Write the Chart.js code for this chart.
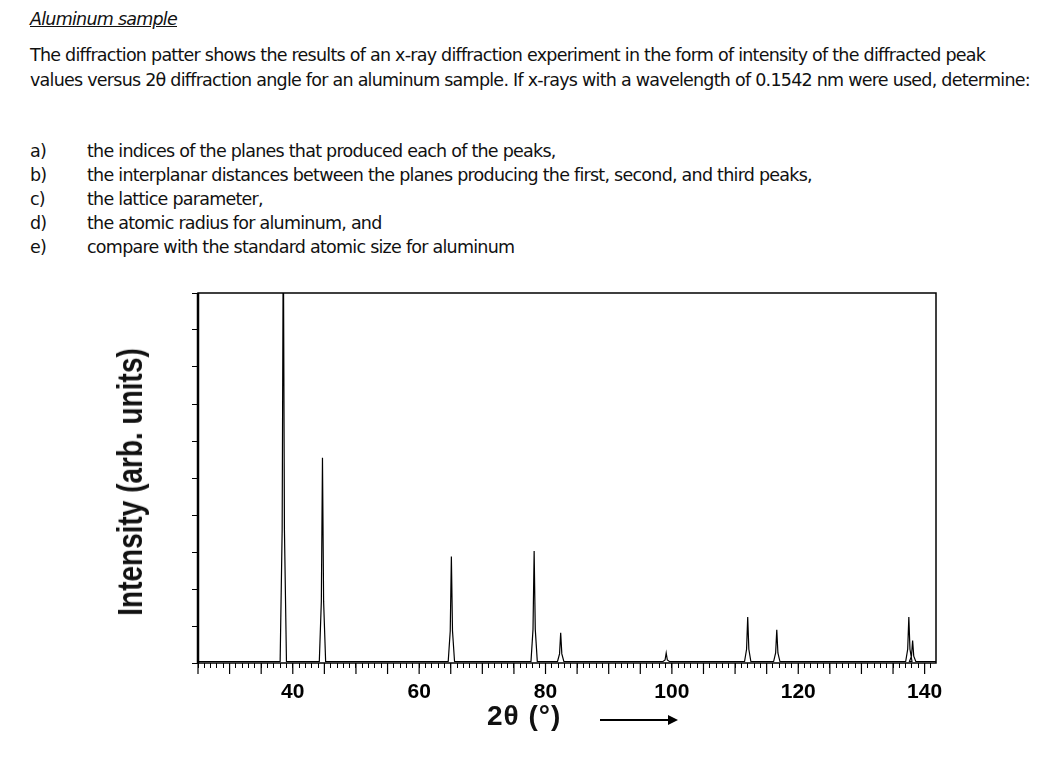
<!DOCTYPE html>
<html>
<head>
<meta charset="utf-8">
<script src="https://cdn.jsdelivr.net/npm/chart.js@4"></script>
<style>
  body { margin: 0; background: #fff; width: 1045px; height: 763px; position: relative; overflow: hidden;
         font-family: "DejaVu Sans", sans-serif; color: #111; }
  .txt { position: absolute; font-size: 17.5px; letter-spacing: -0.75px; }
  .head { left: 30px; top: 9px; font-style: italic; text-decoration: underline; }
  .para { left: 30px; top: 43px; width: 1010px; line-height: 24.5px; }
  .item { left: 30px; line-height: 24px; }
  .item span { position: absolute; left: 57px; white-space: nowrap; }
  #wrap { position: absolute; left: 0; top: 280px; width: 1045px; height: 470px; }
  .ytitle { position: absolute; left: 130px; top: 482px; transform: translate(-50%, -50%) rotate(-90deg) scaleX(0.8);
            font: bold 35px "Liberation Sans", Arial, sans-serif; white-space: nowrap; }
  .xtitle { position: absolute; left: 487px; top: 700px; font: bold 28px "Liberation Sans", Arial, sans-serif;
            letter-spacing: 1px; white-space: nowrap; }
  .arrow { position: absolute; left: 600px; top: 719px; width: 74px; height: 2px; background: #000; }
  .arrow:after { content: ""; position: absolute; right: -4px; top: -4px; border-left: 10px solid #000;
                 border-top: 5px solid transparent; border-bottom: 5px solid transparent; }
</style>
</head>
<body>
<div class="txt head">Aluminum sample</div>
<div class="txt para">The diffraction patter shows the results of an x-ray diffraction experiment in the form of intensity of the diffracted peak values versus 2θ diffraction angle for an aluminum sample. If x-rays with a wavelength of 0.1542 nm were used, determine:</div>
<div class="txt item" style="top:139px">a)<span>the indices of the planes that produced each of the peaks,</span></div>
<div class="txt item" style="top:163px">b)<span>the interplanar distances between the planes producing the first, second, and third peaks,</span></div>
<div class="txt item" style="top:187px">c)<span>the lattice parameter,</span></div>
<div class="txt item" style="top:211px">d)<span>the atomic radius for aluminum, and</span></div>
<div class="txt item" style="top:235px">e)<span>compare with the standard atomic size for aluminum</span></div>

<div id="wrap"><canvas id="xrd"></canvas></div>
<div class="ytitle">Intensity (arb. units)</div>
<div class="xtitle">2θ (°)</div>
<div class="arrow"></div>

<script>
// peak positions (2θ, degrees) and relative heights
const PEAK_POS = [38.5, 44.7, 65.1, 78.2, 82.4, 99.1, 112.0, 116.6, 137.5, 138.1];
const PEAK_HEIGHT = [1.2, 0.555, 0.288, 0.303, 0.082, 0.027, 0.124, 0.09, 0.124, 0.061];
const X_LABELS = [40, 60, 80, 100, 120, 140];
const X_MIN = 25;
const X_MAX = 141.8;

function buildTrace() {
  const pts = [{ x: X_MIN, y: 0.004 }];
  PEAK_POS.forEach((p, i) => {
    const h = PEAK_HEIGHT[i];
    pts.push({ x: p - 0.5, y: 0.004 }, { x: p - 0.18, y: h * 0.3 }, { x: p, y: h },
             { x: p + 0.18, y: h * 0.3 }, { x: p + 0.5, y: 0.004 });
  });
  pts.push({ x: X_MAX, y: 0.004 });
  return pts;
}

// box around the plot plus the longer ticks every 5 degrees
const frame = {
  id: 'frame',
  afterDraw(chart) {
    const { ctx, chartArea: a } = chart;
    const xs = chart.scales.x;
    ctx.save();
    ctx.strokeStyle = '#000';
    ctx.lineWidth = 1.5;
    ctx.strokeRect(a.left, a.top, a.right - a.left, a.bottom - a.top);
    ctx.lineWidth = 2.5;
    ctx.beginPath(); ctx.moveTo(a.left, a.top); ctx.lineTo(a.left, a.bottom); ctx.stroke();
    ctx.lineWidth = 1.2;
    for (let v = 25; v <= 140; v += 5) {
      const px = xs.getPixelForValue(v);
      ctx.beginPath(); ctx.moveTo(px, a.bottom); ctx.lineTo(px, a.bottom + 11); ctx.stroke();
    }
    ctx.restore();
  },
};

new Chart(document.getElementById('xrd'), {
  type: 'line',
  data: {
    datasets: [{
      data: buildTrace(),
      borderColor: '#000',
      borderWidth: 1.2,
      pointRadius: 0,
      tension: 0,
    }],
  },
  options: {
    responsive: true,
    maintainAspectRatio: false,
    animation: false,
    layout: { padding: { top: 13, right: 109 } },
    plugins: { legend: { display: false }, tooltip: { enabled: false } },
    scales: {
      x: {
        type: 'linear', min: X_MIN, max: X_MAX,
        afterFit: (s) => { s.height = 87; },
        afterBuildTicks: (s) => {
          const t = [];
          for (let v = 25; v <= 141; v++) t.push({ value: v });
          s.ticks = t;
        },
        grid: { drawOnChartArea: false, color: '#000', tickLength: 5, lineWidth: 1 },
        border: { display: false },
        ticks: {
          autoSkip: false, maxRotation: 0, color: '#000', padding: 12,
          font: { family: '"Liberation Sans", Arial, sans-serif', size: 21, weight: 'bold' },
          callback: (v) => (X_LABELS.includes(v) ? String(v) : ''),
        },
      },
      y: {
        min: 0, max: 1,
        afterFit: (s) => { s.width = 198; },
        grid: { drawOnChartArea: false, color: '#000', tickLength: 6 },
        border: { display: false },
        ticks: { stepSize: 0.1, callback: () => '' },
      },
    },
  },
  plugins: [frame],
});
</script>
</body>
</html>
